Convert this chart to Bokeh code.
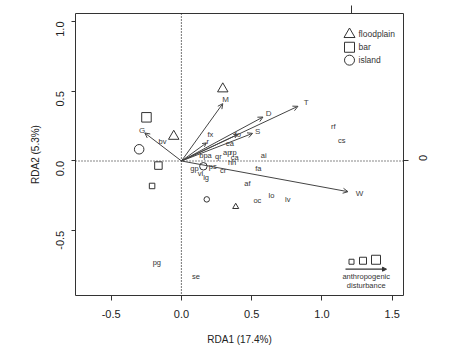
import math
from bokeh.plotting import figure
from bokeh.models import (Range1d, LinearAxis, FixedTicker, Span, Arrow, OpenHead,
                          NormalHead, ColumnDataSource)
from bokeh.core.properties import value
from bokeh.embed import file_html
from bokeh.resources import INLINE

# ---------------- data ----------------
site_type = ["floodplain", "bar", "floodplain", "island", "bar", "bar",
             "island", "island", "floodplain"]
site_x = [0.294, -0.249, -0.055, -0.301, -0.164, -0.209, 0.156, 0.180, 0.386]
site_y = [0.517, 0.313, 0.177, 0.084, -0.033, -0.179, -0.038, -0.275, -0.328]
site_disturbance = [3, 3, 3, 3, 2, 1, 2, 1, 1]

env_names = ["M", "T", "D", "S", "W", "G"]
env_x = [0.294, 0.829, 0.580, 0.506, 1.185, -0.261]
env_y = [0.411, 0.392, 0.315, 0.198, -0.220, 0.201]
# short unlabelled vectors in the fan
minor_x = [0.400, 0.178]
minor_y = [0.190, 0.130]

sp_names = ["rf", "cs", "fx", "r", "fo", "ea", "bpa", "qr", "ap", "rp", "ca", "hh",
            "ai", "fa", "gp", "ps", "cr", "vl", "lg", "af", "oc", "lo", "lv",
            "pg", "se", "bv"]
sp_x = [1.081, 1.140, 0.206, 0.187, 0.400, 0.344, 0.171, 0.263, 0.325, 0.370, 0.379,
        0.360, 0.585, 0.547, 0.092, 0.223, 0.296, 0.135, 0.175, 0.469, 0.540, 0.640,
        0.756, -0.175, 0.104, -0.135]
sp_y = [0.249, 0.148, 0.189, 0.139, 0.189, 0.122, 0.038, 0.033, 0.062, 0.062, 0.024,
        -0.012, 0.041, -0.053, -0.057, -0.043, -0.065, -0.093, -0.120, -0.160, -0.282,
        -0.249, -0.275, -0.730, -0.825, 0.139]

legend_labels = ["floodplain", "bar", "island"]
key_levels = [1, 2, 3]
key_text = ["anthropogenic", "disturbance"]

x_ticks = [-0.5, 0.0, 0.5, 1.0, 1.5]
x_tick_labels = ["-0.5", "0.0", "0.5", "1.0", "1.5"]
y_ticks = [-0.5, 0.0, 0.5, 1.0]
y_tick_labels = ["-0.5", "0.0", "0.5", "1.0"]
x_title = "RDA1 (17.4%)"
y_title = "RDA2 (5.3%)"

# ---------------- styles / layout ----------------
FONT = "Liberation Sans"
INK = "#333333"
marker_of = {"floodplain": "triangle", "bar": "square", "island": "circle"}
size_of = {1: 5.5, 2: 7.5, 3: 9.5}
tri_scale = 1.1

W, H = 466, 347
ML, MR, MT, MB = 75, 63, 13, 50
FW, FH = W - ML - MR, H - MT - MB

p = figure(width=W, height=H, x_range=Range1d(-0.754, 1.58), y_range=Range1d(-0.964, 1.057),
           output_backend="svg", toolbar_location=None,
           x_axis_location=None, y_axis_location=None,
           min_border_left=ML, min_border_right=MR, min_border_top=MT, min_border_bottom=MB)
p.xgrid.visible = False
p.ygrid.visible = False
p.outline_line_color = INK
p.outline_line_width = 1
p.background_fill_color = "white"
p.border_fill_color = "white"
p.extra_x_ranges = {"px": Range1d(0, FW)}
p.extra_y_ranges = {"py": Range1d(0, FH)}


def style_axis(ax):
    ax.axis_line_color = None
    ax.major_tick_line_color = INK
    ax.major_tick_in = 0
    ax.minor_tick_line_color = None
    ax.major_label_text_font = FONT
    ax.major_label_text_font_size = "11px"
    ax.major_label_text_color = "#222222"
    ax.axis_label_text_font = FONT
    ax.axis_label_text_font_size = "10px"
    ax.axis_label_text_font_style = "normal"
    ax.axis_label_text_color = "#222222"


bx = LinearAxis(ticker=FixedTicker(ticks=x_ticks),
                major_label_overrides=dict(zip(x_ticks, x_tick_labels)), axis_label=x_title)
style_axis(bx)
bx.major_tick_out = 5
bx.major_label_standoff = 9
bx.axis_label_standoff = 13
p.add_layout(bx, "below")

ly = LinearAxis(ticker=FixedTicker(ticks=y_ticks),
                major_label_overrides=dict(zip(y_ticks, y_tick_labels)), axis_label=y_title)
style_axis(ly)
ly.major_tick_out = 4
ly.major_label_standoff = 11
ly.major_label_orientation = math.pi / 2
ly.axis_label_standoff = 9
p.add_layout(ly, "left")

ry = LinearAxis(ticker=FixedTicker(ticks=[0]), major_label_overrides={0: "0"})
style_axis(ry)
ry.major_tick_out = 5
ry.major_label_standoff = 15
ry.major_label_orientation = math.pi / 2
p.add_layout(ry, "right")

tx = LinearAxis(ticker=FixedTicker(ticks=[1.21]))
style_axis(tx)
tx.major_tick_out = 8
tx.major_tick_line_width = 1
tx.major_label_text_alpha = 0
tx.major_label_text_font_size = "1px"
tx.major_label_standoff = 0
p.add_layout(tx, "above")

# zero lines
p.add_layout(Span(location=0, dimension="width", line_color="#111111", line_width=1.2, line_dash="1 2"))
p.add_layout(Span(location=0, dimension="height", line_color="#111111", line_width=1.2, line_dash="1 2"))

# environmental arrows
env_src = ColumnDataSource(dict(x=env_x, y=env_y, name=env_names,
                                lx=[v * 1.07 for v in env_x], ly=[v * 1.07 for v in env_y]))
p.add_layout(Arrow(end=OpenHead(size=5, line_color="#444444", line_width=1),
                   x_start=0, y_start=0, x_end="x", y_end="y", source=env_src,
                   line_color="#444444", line_width=1))
minor_src = ColumnDataSource(dict(x=minor_x, y=minor_y))
p.add_layout(Arrow(end=OpenHead(size=4, line_color="#444444", line_width=1),
                   x_start=0, y_start=0, x_end="x", y_end="y", source=minor_src,
                   line_color="#444444", line_width=1))
p.text(x="lx", y="ly", text="name", source=env_src, text_font=value(FONT),
       text_font_size="8px", text_color="#444444", text_align="center", text_baseline="middle")

# species labels
sp_src = ColumnDataSource(dict(x=sp_x, y=sp_y, name=sp_names))
p.text(x="x", y="y", text="name", source=sp_src, text_font=value(FONT),
       text_font_size="7.5px", text_color="#333333", text_align="center", text_baseline="middle")

# sites
site_src = ColumnDataSource(dict(
    x=site_x, y=site_y,
    marker=[marker_of[t] for t in site_type],
    size=[size_of[d] * (tri_scale if t == "floodplain" else 1.0)
          for t, d in zip(site_type, site_disturbance)]))
p.scatter(x="x", y="y", marker="marker", size="size", source=site_src,
          fill_color=None, line_color=INK, line_width=1)

# legend (frame-pixel coordinates)
leg_src = ColumnDataSource(dict(
    x=[274] * len(legend_labels),
    y=[263 - 13 * i for i in range(len(legend_labels))],
    tx=[283] * len(legend_labels),
    marker=[marker_of[t] for t in legend_labels],
    size=[10 * (tri_scale if t == "floodplain" else 1.0) for t in legend_labels],
    label=legend_labels))
p.scatter(x="x", y="y", marker="marker", size="size", source=leg_src,
          fill_color=None, line_color=INK, line_width=1, x_range_name="px", y_range_name="py")
p.text(x="tx", y="y", text="label", source=leg_src, text_font=value(FONT),
       text_font_size="8.5px", text_color="#333333", text_baseline="middle",
       x_range_name="px", y_range_name="py")

# anthropogenic disturbance key
ksz = [size_of[k] - 0.5 for k in key_levels]
key_src = ColumnDataSource(dict(x=[276, 287.5, 300.5], y=[31.5 + s / 2 for s in ksz], size=ksz))
p.scatter(x="x", y="y", marker="square", size="size", source=key_src,
          fill_color=None, line_color=INK, line_width=1, x_range_name="px", y_range_name="py")
p.add_layout(Arrow(end=NormalHead(size=4, fill_color=INK, line_color=INK),
                   x_start=270, y_start=26.5, x_end=311, y_end=26.5,
                   line_color=INK, line_width=1.3, x_range_name="px", y_range_name="py"))
kt_src = ColumnDataSource(dict(x=[290.7, 290.7], y=[18.7, 9.7], t=key_text))
p.text(x="x", y="y", text="t", source=kt_src, text_font=value(FONT),
       text_font_size="7.5px", text_color="#333333", text_align="center", text_baseline="middle",
       x_range_name="px", y_range_name="py")

open("out.html", "w").write(file_html(p, INLINE))
